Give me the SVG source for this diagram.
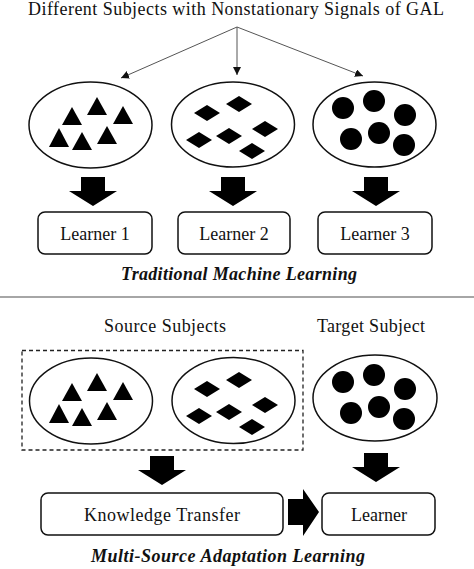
<svg xmlns="http://www.w3.org/2000/svg" width="474" height="569" viewBox="0 0 474 569">
<style>
.t{font-family:'Liberation Serif','Times New Roman','DejaVu Serif',serif;font-size:18px;fill:#111;text-anchor:middle}
.bi{font-weight:bold;font-style:italic}
.el{fill:#fff;stroke:#111;stroke-width:1.5}
.bx{fill:#fff;stroke:#111;stroke-width:1.5}
.sh{fill:#000}
.ln{stroke:#555;stroke-width:1;fill:none}
</style>
<defs>
<marker id="ah" viewBox="0 0 10 10" refX="10" refY="5" markerWidth="8" markerHeight="8" markerUnits="userSpaceOnUse" orient="auto">
<path d="M0,0 L10,5 L0,10 z" fill="#111"/>
</marker>
<g id="tri">
<polygon points="97,97 87,115 107,115"/>
<polygon points="72,107 62,125 82,125"/>
<polygon points="123,106 113,124 133,124"/>
<polygon points="59,128 49,147 69,147"/>
<polygon points="82,132 72,150 92,150"/>
<polygon points="107,126 97,144 117,144"/>
</g>
<g id="dia">
<polygon points="194,113 207,105 220,113 207,121"/>
<polygon points="226,104 239,96 252,104 239,112"/>
<polygon points="252,129 265,121 278,129 265,137"/>
<polygon points="186,140 199,132 212,140 199,148"/>
<polygon points="216,136 229,128 242,136 229,144"/>
<polygon points="239,151 252,143 265,151 252,159"/>
</g>
<g id="cir">
<circle cx="343" cy="108" r="11"/>
<circle cx="374" cy="101" r="11"/>
<circle cx="405" cy="115" r="11"/>
<circle cx="351" cy="139" r="11"/>
<circle cx="379" cy="133" r="11"/>
<circle cx="404" cy="145" r="11"/>
</g>
<path id="down" d="M-12,0 L12,0 L12,14 L24,14 L0,29 L-24,14 L-12,14 z"/>
</defs>

<g id="title">
<text class="t" x="236" y="15" textLength="416" lengthAdjust="spacing">Different Subjects with Nonstationary Signals of GAL</text>
</g>

<g id="connectors">
<line class="ln" x1="237" y1="27" x2="121" y2="78" marker-end="url(#ah)"/>
<line class="ln" x1="237" y1="27" x2="237" y2="75" marker-end="url(#ah)"/>
<line class="ln" x1="237" y1="27" x2="363" y2="76" marker-end="url(#ah)"/>
<use href="#down" class="sh" x="93" y="177"/>
<use href="#down" class="sh" x="233" y="177"/>
<use href="#down" class="sh" x="376" y="177"/>
<use href="#down" class="sh" x="162" y="456"/>
<use href="#down" class="sh" x="376" y="453"/>
<path class="sh" d="M288,499 L303,499 L303,489 L319,512 L303,536 L303,525 L288,525 z"/>
</g>

<g id="subject1">
<ellipse class="el" cx="90.5" cy="125" rx="61.5" ry="43"/>
<use href="#tri" class="sh"/>
</g>
<g id="subject2">
<ellipse class="el" cx="233" cy="124.5" rx="61.5" ry="42.5"/>
<use href="#dia" class="sh"/>
</g>
<g id="subject3">
<ellipse class="el" cx="374.5" cy="124.5" rx="61.5" ry="42.5"/>
<use href="#cir" class="sh"/>
</g>

<g id="learner1">
<rect class="bx" x="38" y="212" width="114" height="42" rx="7"/>
<text class="t" x="95" y="240">Learner 1</text>
</g>
<g id="learner2">
<rect class="bx" x="178" y="212" width="112" height="42" rx="7"/>
<text class="t" x="234" y="240">Learner 2</text>
</g>
<g id="learner3">
<rect class="bx" x="318" y="212" width="114" height="42" rx="7"/>
<text class="t" x="375" y="240">Learner 3</text>
</g>

<g id="label-traditional">
<text class="t bi" x="239" y="280" textLength="236" lengthAdjust="spacing">Traditional Machine Learning</text>
</g>

<line x1="0" y1="297" x2="474" y2="297" stroke="#888" stroke-width="1.5"/>

<g id="source-subjects">
<text class="t" x="165" y="332" textLength="122" lengthAdjust="spacing">Source Subjects</text>
<rect x="22" y="350.5" width="281" height="99.5" fill="none" stroke="#222" stroke-width="1.3" stroke-dasharray="4,3"/>
</g>
<g id="target-label">
<text class="t" x="371" y="332" textLength="108" lengthAdjust="spacing">Target Subject</text>
</g>

<g id="source1">
<ellipse class="el" cx="91" cy="401" rx="61.5" ry="43"/>
<use href="#tri" class="sh" y="276"/>
</g>
<g id="source2">
<ellipse class="el" cx="233.5" cy="400.5" rx="61.5" ry="43"/>
<use href="#dia" class="sh" y="276"/>
</g>
<g id="target">
<ellipse class="el" cx="375" cy="398" rx="62" ry="43"/>
<use href="#cir" class="sh" y="274"/>
</g>

<g id="knowledge-transfer">
<rect class="bx" x="41" y="493" width="242" height="42" rx="7"/>
<text class="t" x="162" y="521" textLength="156" lengthAdjust="spacing">Knowledge Transfer</text>
</g>
<g id="learner">
<rect class="bx" x="322" y="493" width="113" height="42" rx="7"/>
<text class="t" x="379" y="521">Learner</text>
</g>

<g id="label-msal">
<text class="t bi" x="228" y="562" textLength="274" lengthAdjust="spacing">Multi-Source Adaptation Learning</text>
</g>
</svg>
